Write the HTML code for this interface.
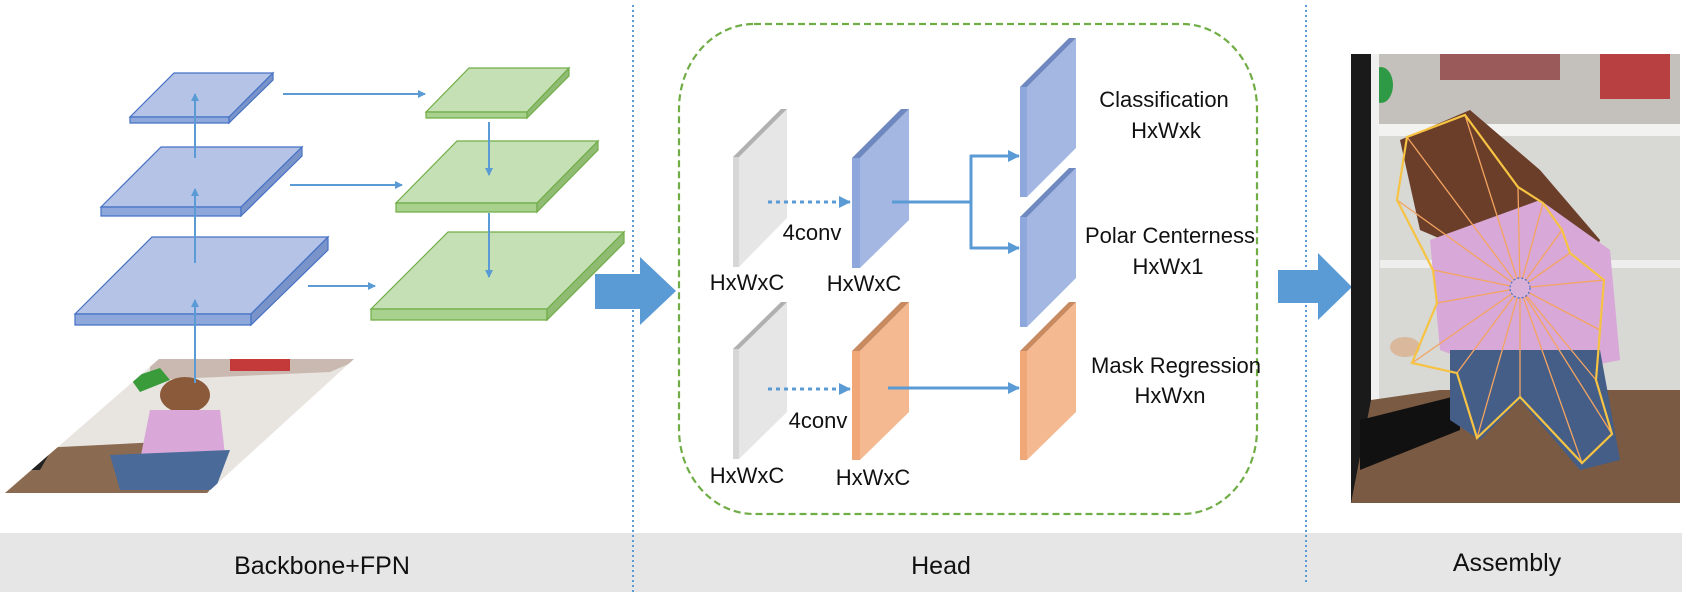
<!DOCTYPE html>
<html><head><meta charset="utf-8"><style>
html,body{margin:0;padding:0;background:#fff;}
svg{display:block;}
text{font-family:"Liberation Sans",sans-serif;fill:#111;}
</style></head><body>
<svg width="1682" height="592" viewBox="0 0 1682 592" xmlns="http://www.w3.org/2000/svg">
<defs>
<marker id="ah" markerWidth="8" markerHeight="8" refX="7" refY="4" orient="auto" markerUnits="userSpaceOnUse"><path d="M0,0 L8,4 L0,8 z" fill="#5b9bd5"/></marker>
<marker id="ahb" markerWidth="12" markerHeight="12" refX="11" refY="6" orient="auto" markerUnits="userSpaceOnUse"><path d="M0,0 L12,6 L0,12 z" fill="#5b9bd5"/></marker>
<clipPath id="pc"><polygon points="159,359 354,359 207,493 5,493"/></clipPath>
<clipPath id="ac"><rect x="1351" y="54" width="329" height="449"/></clipPath>
</defs>

<rect x="0" y="533" width="1682" height="59" fill="#e6e6e6"/>
<text x="322" y="574" font-size="25" text-anchor="middle">Backbone+FPN</text>
<text x="941" y="574" font-size="25" text-anchor="middle">Head</text>
<text x="1507" y="571" font-size="25" text-anchor="middle">Assembly</text>

<line x1="633" y1="5" x2="633" y2="592" stroke="#5b9bd5" stroke-width="2" stroke-dasharray="2,3"/>
<line x1="1306" y1="5" x2="1306" y2="585" stroke="#5b9bd5" stroke-width="2" stroke-dasharray="2,3"/>

<g clip-path="url(#pc)">
<rect x="0" y="355" width="360" height="140" fill="#e8e4e0"/>
<polygon points="150,359 360,359 330,372 150,380" fill="#c9b9b0"/>
<rect x="230" y="359" width="60" height="12" fill="#c43a3a"/>
<polygon points="0,450 200,440 210,495 0,495" fill="#8a6a50"/>
<polygon points="20,470 60,400 80,400 40,470" fill="#222"/>
<polygon points="130,378 160,368 170,380 140,392" fill="#3a9b3a"/>
<ellipse cx="185" cy="395" rx="25" ry="18" fill="#8a5a3a"/>
<polygon points="150,410 220,410 225,455 140,460" fill="#d9a8d8"/>
<polygon points="110,455 230,450 215,490 120,490" fill="#4a6a9a"/>
</g>

<g stroke="#4472c4" stroke-width="1.2">
<polygon points="174,73 273,73 229,117 130,117" fill="#b4c3e6"/>
<polygon points="130,117 229,117 229,123 130,123" fill="#8fa8dc"/>
<polygon points="229,117 273,73 273,80 229,123" fill="#7a93c9"/>
<polygon points="161,147 302,147 241,207 101,207" fill="#b4c3e6"/>
<polygon points="101,207 241,207 241,216 101,216" fill="#8fa8dc"/>
<polygon points="241,207 302,147 302,156 241,216" fill="#7a93c9"/>
<polygon points="152,237 328,237 251,314 75,314" fill="#b4c3e6"/>
<polygon points="75,314 251,314 251,325 75,325" fill="#8fa8dc"/>
<polygon points="251,314 328,237 328,250 251,325" fill="#7a93c9"/>
</g>
<g stroke="#70ad47" stroke-width="1.2">
<polygon points="469,68 569,68 527,112 426,112" fill="#c5e0b4"/>
<polygon points="426,112 527,112 527,118 426,118" fill="#a9d18e"/>
<polygon points="527,112 569,68 569,76 527,118" fill="#8fbc72"/>
<polygon points="457,141 598,141 537,203 396,203" fill="#c5e0b4"/>
<polygon points="396,203 537,203 537,212 396,212" fill="#a9d18e"/>
<polygon points="537,203 598,141 598,150 537,212" fill="#8fbc72"/>
<polygon points="448,232 624,232 547,309 371,309" fill="#c5e0b4"/>
<polygon points="371,309 547,309 547,320 371,320" fill="#a9d18e"/>
<polygon points="547,309 624,232 624,243 547,320" fill="#8fbc72"/>
</g>
<g stroke="#5b9bd5" stroke-width="2" fill="none">
<line x1="195" y1="383" x2="195" y2="300" marker-end="url(#ah)"/>
<line x1="195" y1="263" x2="195" y2="189" marker-end="url(#ah)"/>
<line x1="195" y1="158" x2="195" y2="94" marker-end="url(#ah)"/>
<line x1="283" y1="94" x2="425" y2="94" marker-end="url(#ah)"/>
<line x1="290" y1="185" x2="402" y2="185" marker-end="url(#ah)"/>
<line x1="308" y1="286" x2="375" y2="286" marker-end="url(#ah)"/>
<line x1="489" y1="122" x2="489" y2="175" marker-end="url(#ah)"/>
<line x1="489" y1="213" x2="489" y2="277" marker-end="url(#ah)"/>
</g>

<polygon points="595,274 640,274 640,257 676,291 640,325 640,309 595,309" fill="#5b9bd5"/>
<polygon points="1278,270 1318,270 1318,253 1352,287 1318,320 1318,303 1278,303" fill="#5b9bd5"/>

<rect x="679" y="24" width="578" height="490" rx="75" ry="85" fill="none" stroke="#70ad47" stroke-width="2.2" stroke-dasharray="7,4"/>

<g>
<polygon points="739,157 787,109 787,218 739,267" fill="#e6e6e6"/>
<polygon points="733,157 739,157 739,267 733,267" fill="#d6d6d6"/>
<polygon points="733,157 781,109 787,109 739,157" fill="#b0b0b0"/>
<polygon points="739,349 787,302 787,412 739,459" fill="#e6e6e6"/>
<polygon points="733,349 739,349 739,459 733,459" fill="#d6d6d6"/>
<polygon points="733,349 781,302 787,302 739,349" fill="#b0b0b0"/>

<polygon points="860,158 909,109 909,220 860,268" fill="#a3b7e2"/>
<polygon points="852,158 860,158 860,268 852,268" fill="#8ea8dc"/>
<polygon points="852,158 901,109 909,109 860,158" fill="#6f88bf"/>
<polygon points="860,351 909,302 909,412 860,460" fill="#f4b990"/>
<polygon points="852,351 860,351 860,460 852,460" fill="#f0a878"/>
<polygon points="852,351 901,302 909,302 860,351" fill="#c88a60"/>

<polygon points="1027,87 1076,38 1076,148 1027,197" fill="#a3b7e2"/>
<polygon points="1020,87 1027,87 1027,197 1020,197" fill="#8ea8dc"/>
<polygon points="1020,87 1069,38 1076,38 1027,87" fill="#6f88bf"/>
<polygon points="1027,217 1076,168 1076,278 1027,327" fill="#a3b7e2"/>
<polygon points="1020,217 1027,217 1027,327 1020,327" fill="#8ea8dc"/>
<polygon points="1020,217 1069,168 1076,168 1027,217" fill="#6f88bf"/>
<polygon points="1027,351 1076,302 1076,412 1027,460" fill="#f4b990"/>
<polygon points="1020,351 1027,351 1027,460 1020,460" fill="#f0a878"/>
<polygon points="1020,351 1069,302 1076,302 1027,351" fill="#c88a60"/>
</g>

<g stroke="#5b9bd5" fill="none">
<line x1="768" y1="202" x2="850" y2="202" stroke-width="3" stroke-dasharray="4,4" marker-end="url(#ahb)"/>
<line x1="768" y1="389" x2="850" y2="389" stroke-width="3" stroke-dasharray="4,4" marker-end="url(#ahb)"/>
<polyline points="892,202 971,202" stroke-width="3"/>
<line x1="971" y1="155" x2="971" y2="249" stroke-width="3"/>
<line x1="970" y1="156" x2="1019" y2="156" stroke-width="3" marker-end="url(#ahb)"/>
<line x1="970" y1="248" x2="1019" y2="248" stroke-width="3" marker-end="url(#ahb)"/>
<line x1="888" y1="388" x2="1019" y2="388" stroke-width="3" marker-end="url(#ahb)"/>
</g>

<g font-size="22">
<text x="812" y="240" text-anchor="middle">4conv</text>
<text x="818" y="428" text-anchor="middle">4conv</text>
<text x="747" y="290" text-anchor="middle">HxWxC</text>
<text x="864" y="291" text-anchor="middle">HxWxC</text>
<text x="747" y="483" text-anchor="middle">HxWxC</text>
<text x="873" y="485" text-anchor="middle">HxWxC</text>
<text x="1164" y="107" text-anchor="middle">Classification</text>
<text x="1166" y="138" text-anchor="middle">HxWxk</text>
<text x="1170" y="243" text-anchor="middle">Polar Centerness</text>
<text x="1168" y="274" text-anchor="middle">HxWx1</text>
<text x="1176" y="373" text-anchor="middle">Mask Regression</text>
<text x="1170" y="403" text-anchor="middle">HxWxn</text>
</g>

<g clip-path="url(#ac)">
<rect x="1351" y="54" width="329" height="449" fill="#d8d8d4"/>
<rect x="1351" y="54" width="329" height="70" fill="#c4c0bc"/>
<rect x="1440" y="54" width="120" height="26" fill="#9a5a5a"/>
<rect x="1600" y="54" width="70" height="45" fill="#b84040"/>
<ellipse cx="1381" cy="85" rx="12" ry="18" fill="#2f9a45"/>
<rect x="1351" y="124" width="329" height="12" fill="#f2f2f0"/>
<rect x="1380" y="260" width="300" height="8" fill="#eeeeec"/>
<rect x="1351" y="54" width="20" height="449" fill="#1a1a1a"/>
<rect x="1371" y="54" width="8" height="360" fill="#f0f0f0"/>
<polygon points="1371,400 1440,390 1680,390 1680,503 1351,503" fill="#7a5a42"/>
<polygon points="1360,420 1460,395 1460,430 1360,470" fill="#111"/>
<polygon points="1400,140 1470,110 1540,170 1600,240 1580,290 1490,260 1420,230" fill="#6b3e2a"/>
<polygon points="1430,240 1540,200 1610,250 1620,360 1520,380 1440,350" fill="#d8a8d8"/>
<polygon points="1450,350 1600,350 1620,460 1580,470 1520,400 1480,440 1450,420" fill="#445e88"/>
<ellipse cx="1405" cy="347" rx="15" ry="10" fill="#d9b89c"/>
<g stroke="#f4a460" stroke-width="1.3" fill="none">
<line x1="1520" y1="288" x2="1465" y2="115"/><line x1="1520" y1="288" x2="1407" y2="137"/>
<line x1="1520" y1="288" x2="1397" y2="200"/><line x1="1520" y1="288" x2="1433" y2="270"/>
<line x1="1520" y1="288" x2="1437" y2="303"/><line x1="1520" y1="288" x2="1412" y2="363"/>
<line x1="1520" y1="288" x2="1457" y2="373"/><line x1="1520" y1="288" x2="1477" y2="438"/>
<line x1="1520" y1="288" x2="1520" y2="397"/><line x1="1520" y1="288" x2="1582" y2="463"/>
<line x1="1520" y1="288" x2="1612" y2="434"/><line x1="1520" y1="288" x2="1596" y2="380"/>
<line x1="1520" y1="288" x2="1600" y2="330"/><line x1="1520" y1="288" x2="1604" y2="280"/>
<line x1="1520" y1="288" x2="1570" y2="253"/><line x1="1520" y1="288" x2="1562" y2="230"/>
<line x1="1520" y1="288" x2="1543" y2="203"/><line x1="1520" y1="288" x2="1518" y2="187"/>
</g>
<polygon points="1465,115 1518,187 1543,203 1562,230 1570,253 1604,280 1600,330 1596,380 1612,434 1582,463 1520,397 1477,438 1457,373 1412,363 1437,303 1433,270 1397,200 1407,137" fill="none" stroke="#f6c342" stroke-width="2.2"/>
<ellipse cx="1520" cy="288" rx="10" ry="10" fill="#d8b0d8" stroke="#4472c4" stroke-width="1.2" stroke-dasharray="2,2"/>
</g>
</svg>
</body></html>
